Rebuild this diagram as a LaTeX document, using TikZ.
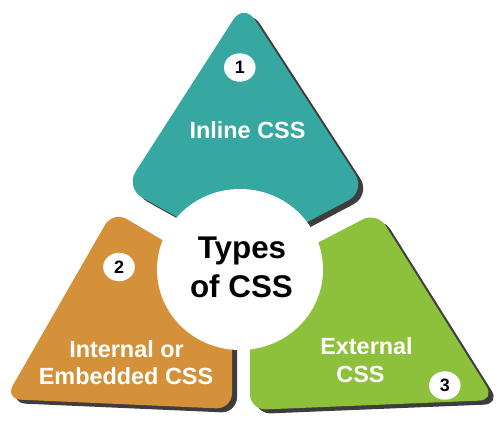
\documentclass[tikz,border=0pt]{standalone}
\usepackage{fontspec}
\setmainfont{Liberation Sans}
\usetikzlibrary{shapes.geometric}
\definecolor{tealc}{HTML}{37A8A1}
\definecolor{orangec}{HTML}{D4913A}
\definecolor{greenc}{HTML}{8DC13B}
\definecolor{shadowc}{HTML}{3D3D3D}
\newcommand\tealshape[1]{\fill[#1, rounded corners=20bp] (245,255) -- (125,188) -- (244,3) -- (366,191) -- cycle;}
\newcommand\orangeshape[1]{\fill[#1, rounded corners=16bp] (232,281) -- (113,211) -- (5,399) -- (232,409) -- cycle;}
\newcommand\greenshape[1]{\fill[#1, rounded corners=16bp] (250,278) -- (377,212) -- (495,400) -- (250,410) -- cycle;}
\begin{document}
\begin{tikzpicture}[x=1bp,y=-1bp,
  lbl/.style={text=white, font=\fontsize{23.5}{28}\selectfont\bfseries, inner sep=0pt, anchor=base},
  ttl/.style={text=black, font=\fontsize{31.5}{36}\selectfont\bfseries, inner sep=0pt, anchor=base},
  numc/.style={ellipse, fill=white, minimum width=31.6bp, minimum height=28.4bp, inner sep=0pt,
    text=black, font=\fontsize{18}{20}\selectfont\bfseries}]
\useasboundingbox (0,0) rectangle (500,429);
% shadows
\begin{scope}[shift={(5,4)}]
\tealshape{shadowc}
\orangeshape{shadowc}
\greenshape{shadowc}
\end{scope}
% pieces
\tealshape{tealc}
\orangeshape{orangec}
\greenshape{greenc}
% centre disk
\fill[white] (240,269.5) ellipse [x radius=83, y radius=80.5];
% texts
\node[ttl] (t1) at (242,258) {Types};
\node[ttl] (t2) at (241.5,297) {of CSS};
\node[lbl] (inl) at (247.5,138) {Inline CSS};
\node[lbl] (int1) at (126.5,357) {Internal or};
\node[lbl] (int2) at (126,384) {Embedded CSS};
\node[lbl] (ext1) at (366.5,354) {External};
\node[lbl] (ext2) at (360.5,382) {CSS};
% numbers
\node[numc] (n1) at (239.8,67.5) {1};
\node[numc] (n2) at (119,267) {2};
\node[numc] (n3) at (444.8,385.5) {3};
\end{tikzpicture}
\end{document}
